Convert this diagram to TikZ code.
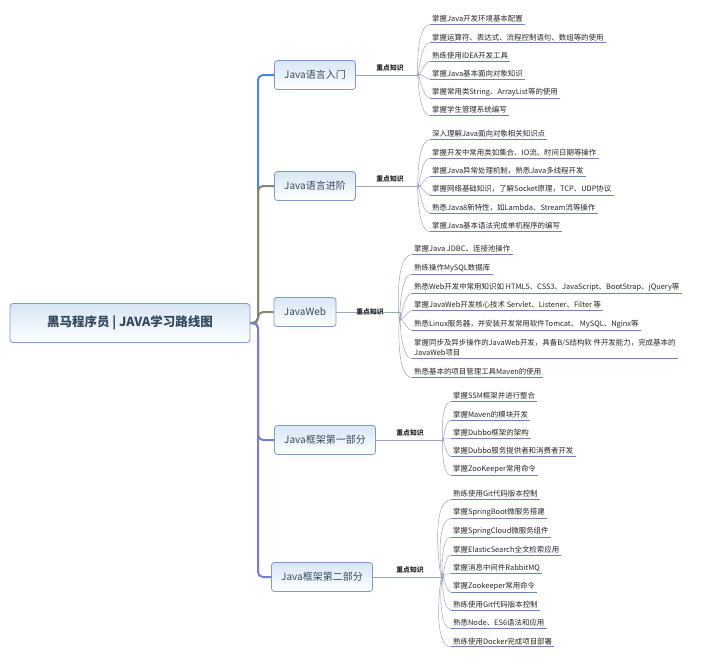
\documentclass[tikz,border=0pt]{standalone}
\usepackage{fontspec}
\setmainfont{Noto Sans CJK SC}
\begin{document}
\begin{tikzpicture}[x=1pt,y=-1pt,
  box/.style={draw=boxline,rounded corners=3pt,top color=boxtop,bottom color=white,line width=0.8pt,font=\fontsize{10}{12}\selectfont,text=titletext,minimum height=29pt,inner xsep=6pt},
  item/.style={anchor=west,inner xsep=2pt,inner ysep=2pt,font=\fontsize{7.45}{10}\selectfont,text=black!85},
  uline/.style={draw=ulc,line width=0.8pt},
  fan/.style={draw=fanc,line width=0.5pt},
  key/.style={font=\bfseries\fontsize{6.8}{8}\selectfont,text=black!85},
  trunk/.style={line width=2pt,rounded corners=5pt}]
\definecolor{boxline}{HTML}{7C9CC6}
\definecolor{boxtop}{HTML}{D8E6F4}
\definecolor{titletext}{HTML}{34495E}
\definecolor{ulc}{HTML}{6F86B0}
\definecolor{fanc}{HTML}{9AA6BE}
\definecolor{tblue}{HTML}{4A86E0}
\definecolor{tolive}{HTML}{8C8670}
\definecolor{tpurple}{HTML}{7C7CCB}
\useasboundingbox (0,0) rectangle (720,659);
\node[box,minimum width=240pt,minimum height=39pt,font=\bfseries\fontsize{12.5}{14}\selectfont] (root) at (130,323) {黑马程序员 | JAVA学习路线图};
\node[box,minimum width=81pt] (c1) at (315,75) {Java语言入门};
\node[box,minimum width=81pt] (c2) at (315,186) {Java语言进阶};
\node[box,minimum width=62pt] (c3) at (305,312) {JavaWeb};
\node[box,minimum width=101pt] (c4) at (325,440) {Java框架第一部分};
\node[box,minimum width=101pt] (c5) at (322,577) {Java框架第二部分};
\draw[trunk,tblue] (root.east) -- (258,323) |- (c1.west);
\draw[trunk,tolive] (root.east) -- (258,323) |- (c2.west);
\draw[trunk,tolive] (root.east) -- (258,323) |- (c3.west);
\draw[trunk,tpurple] (root.east) -- (258,323) |- (c4.west);
\draw[trunk,tpurple] (root.east) -- (258,323) |- (c5.west);
% hubs
\coordinate (h1) at (418,75);
\coordinate (h2) at (418,186);
\coordinate (h3) at (400,319);
\coordinate (h4) at (443,440);
\coordinate (h5) at (443,577);
\foreach \c/\h in {c1/h1,c2/h2,c3/h3,c4/h4,c5/h5}{
  \draw[fan,line width=0.7pt] (\c.east) -- (\c.east -| \h) -- (\h);
}
\node[key,above] (k1) at (390,75) {重点知识};
\node[key,above] (k2) at (390,186) {重点知识};
\node[key,above] (k3) at (370,319) {重点知识};
\node[key,above] (k4) at (410,440) {重点知识};
\node[key,above] (k5) at (410,577) {重点知识};
% group 1
\foreach \t [count=\i] in {{掌握Java开发环境基本配置},{掌握运算符、表达式、流程控制语句、数组等的使用},{熟练使用IDEA开发工具},{掌握Java基本面向对象知识},{掌握常用类String、ArrayList等的使用},{掌握学生管理系统编写}}{
  \node[item] (a\i) at (430,{19+18.2*(\i-1)}) {\t};
  \draw[uline] (a\i.south west) -- (a\i.south east);
  \draw[fan] (h1) to[out={\i<4?270:90},in=180,looseness=0.8] (a\i.south west);
}
% group 2
\foreach \t [count=\i] in {{深入理解Java面向对象相关知识点},{掌握开发中常用类如集合、IO流、时间日期等操作},{掌握Java异常处理机制，熟悉Java多线程开发},{掌握网络基础知识，了解Socket原理，TCP、UDP协议},{熟悉Java8新特性，如Lambda、Stream流等操作},{掌握Java基本语法完成单机程序的编写}}{
  \node[item] (b\i) at (430,{134+18.4*(\i-1)}) {\t};
  \draw[uline] (b\i.south west) -- (b\i.south east);
  \draw[fan] (h2) to[out={\i<4?270:90},in=180,looseness=0.8] (b\i.south west);
}
% group 3
\foreach \t/\yy [count=\i] in {{掌握Java JDBC、连接池操作}/249,{熟练操作MySQL数据库}/268,{熟悉Web开发中常用知识如 HTML5、CSS3、JavaScript、BootStrap、jQuery等}/287,{掌握JavaWeb开发核心技术 Servlet、Listener、Filter 等}/305,{熟悉Linux服务器，并安装开发常用软件Tomcat、 MySQL、Nginx等}/324,{熟悉基本的项目管理工具Maven的使用}/372}{
  \node[item] (w\i) at (412,\yy) {\t};
  \draw[uline] (w\i.south west) -- (w\i.south east);
  \draw[fan] (h3) to[out={\i<5?270:90},in=180,looseness=0.8] (w\i.south west);
}
\node[item,align=left] (w7) at (412,348) {掌握同步及异步操作的JavaWeb开发，具备B/S结构软 件开发能力，完成基本的\\JavaWeb项目};
\draw[uline] (w7.south west) -- (w7.south east);
\draw[fan] (h3) to[out=90,in=180,looseness=0.8] (w7.south west);
% group 4
\foreach \t [count=\i] in {{掌握SSM框架并进行整合},{掌握Maven的模块开发},{掌握Dubbo框架的架构},{掌握Dubbo服务提供者和消费者开发},{掌握ZooKeeper常用命令}}{
  \node[item] (f\i) at (451,{396+18.3*(\i-1)}) {\t};
  \draw[uline] (f\i.south west) -- (f\i.south east);
  \draw[fan] (h4) to[out={\i<3?270:90},in=180,looseness=0.8] (f\i.south west);
}
% group 5
\foreach \t [count=\i] in {{熟练使用Git代码版本控制},{掌握SpringBoot微服务搭建},{掌握SpringCloud微服务组件},{掌握ElasticSearch全文检索应用},{掌握消息中间件RabbitMQ},{掌握Zookeeper常用命令},{熟练使用Git代码版本控制},{熟悉Node、ES6语法和应用},{熟练使用Docker完成项目部署}}{
  \node[item] (s\i) at (451,{494+18.4*(\i-1)}) {\t};
  \draw[uline] (s\i.south west) -- (s\i.south east);
  \draw[fan] (h5) to[out={\i<5?270:90},in=180,looseness=0.8] (s\i.south west);
}
\end{tikzpicture}
\end{document}
